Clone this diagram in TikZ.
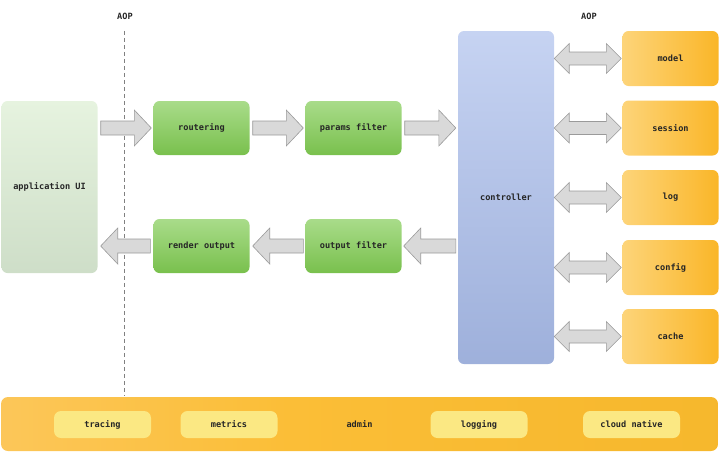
\documentclass[tikz,border=0pt]{standalone}
\usepackage{fontspec}
\setmonofont{DejaVu Sans Mono}
\usetikzlibrary{calc}

\definecolor{arrowfill}{HTML}{D9D9D9}
\definecolor{arrowline}{HTML}{9A9A9A}
\definecolor{greentop}{HTML}{A9DC8A}
\definecolor{greenbot}{HTML}{79C04D}
\definecolor{uitop}{HTML}{E6F3DF}
\definecolor{uibot}{HTML}{CEDEC8}
\definecolor{ctrltop}{HTML}{C6D3F2}
\definecolor{ctrlbot}{HTML}{9EB0DB}
\definecolor{orleft}{HTML}{FDD479}
\definecolor{orright}{HTML}{FAB628}
\definecolor{barleft}{HTML}{FDD183}
\definecolor{barmid}{HTML}{FBBE37}
\definecolor{barright}{HTML}{F2B224}
\definecolor{pill}{HTML}{FBE883}
\pgfdeclarehorizontalshading{barshade}{100bp}{color(0bp)=(barleft); color(45bp)=(barmid); color(100bp)=(barright)}

% block arrow from #1 to #2 (horizontal)
\newcommand\blockarrow[2]{%
  \draw[blk] let \p1=#1, \p2=#2, \n1={ifthenelse(\x2>\x1,17,-17)} in
    (\x1,{\y1+7pt}) -- ({\x2-\n1*1pt},{\y1+7pt}) -- ({\x2-\n1*1pt},{\y1+18pt})
    -- (\x2,\y1) -- ({\x2-\n1*1pt},{\y1-18pt}) -- ({\x2-\n1*1pt},{\y1-7pt})
    -- (\x1,{\y1-7pt}) -- cycle;}
% double block arrow between #1 and #2
\newcommand\duplexarrow[2]{%
  \draw[blk] let \p1=#1, \p2=#2 in
    (\x1,\y1) -- ({\x1+15pt},{\y1+15pt}) -- ({\x1+15pt},{\y1+6.5pt})
    -- ({\x2-15pt},{\y1+6.5pt}) -- ({\x2-15pt},{\y1+15pt}) -- (\x2,\y1)
    -- ({\x2-15pt},{\y1-15pt}) -- ({\x2-15pt},{\y1-6.5pt})
    -- ({\x1+15pt},{\y1-6.5pt}) -- ({\x1+15pt},{\y1-15pt}) -- cycle;}

\begin{document}
\begin{tikzpicture}[x=1pt, y=-1pt, node distance=152pt,
  every node/.style = {font=\ttfamily\bfseries\fontsize{8.6}{10}\selectfont, text=black!85},
  box/.style = {rounded corners=6pt, minimum width=96pt, minimum height=54pt},
  stage/.style = {box, top color=greentop, bottom color=greenbot},
  plugin/.style = {box, minimum height=55pt, left color=orleft, right color=orright},
  pillbox/.style = {rounded corners=7pt, fill=pill, minimum width=97pt, minimum height=27pt},
  blk/.style = {fill=arrowfill, draw=arrowline, line width=0.6pt, line join=miter},
  aop/.style = {draw=black!50, dash pattern=on 4pt off 3pt, line width=0.6pt}]

\useasboundingbox (0,0) rectangle (720,453);

\node[box, minimum height=172pt, top color=uitop, bottom color=uibot] (ui) at (49.5,187) {application UI};
\node[stage] (rout) at (201.5,128) {routering};
\node[stage] (params)[right of = rout] {params filter};
\node[stage] (render) at (201.5,246) {render output};
\node[stage] (outf)[right of = render] {output filter};
\node[box, minimum height=333pt, top color=ctrltop, bottom color=ctrlbot] (ctrl) at (506,197.5) {controller};

\node[plugin] (model) at (670.5,58.5) {model};
\node[plugin] (session) at (670.5,128) {session};
\node[plugin] (log) at (670.5,197.5) {log};
\node[plugin] (config) at (670.5,267.5) {config};
\node[plugin] (cache) at (670.5,336.5) {cache};

\node (aopl) at (125,16) {AOP};
\node (aopr) at (589,16) {AOP};
\coordinate (aopend) at (124,395);
\draw[aop] (aopl.south -| aopend) ++(0,8) -- (aopend);

% request / response flow
\blockarrow{([xshift=3pt]ui.east |- rout)}{([xshift=-2pt]rout.west)}
\blockarrow{([xshift=3pt]rout.east)}{([xshift=-2pt]params.west)}
\blockarrow{([xshift=3pt]params.east)}{([xshift=-2pt]ctrl.west |- params)}
\blockarrow{([xshift=-2pt]ctrl.west |- outf)}{([xshift=2pt]outf.east)}
\blockarrow{([xshift=-2pt]outf.west)}{([xshift=3pt]render.east)}
\blockarrow{([xshift=-3pt]render.west)}{([xshift=3pt]ui.east |- render)}

% controller <-> plugins
\foreach \plug in {model, session, log, config, cache}
  \duplexarrow{(ctrl.east |- \plug)}{([xshift=-1pt]\plug.west)};

% admin bar
\node[rounded corners=7pt, minimum width=717pt, minimum height=54pt,
  shading=barshade] (admin) at (359.5,424) {admin};
\node[pillbox] (tracing) at (102.5,424.5) {tracing};
\node[pillbox] (metrics) at (229,424.5) {metrics};
\node[pillbox] (logging) at (479,424.5) {logging};
\node[pillbox] (cloud) at (631.5,424.5) {cloud native};

\end{tikzpicture}
\end{document}
